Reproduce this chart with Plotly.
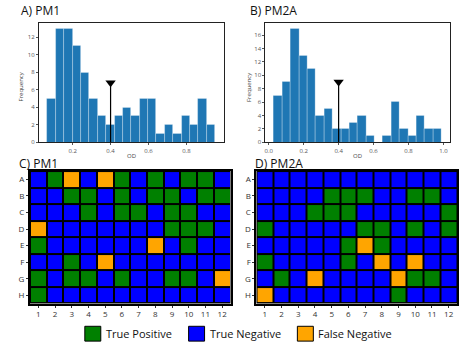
import plotly.graph_objects as go

# ---------------- data ----------------
pm1_counts = [5, 13, 13, 11, 8, 5, 3, 2, 3, 4, 3, 5, 5, 1, 2, 1, 3, 2, 5, 2]
pm1_bin_start = 0.066
pm1_bin_end = 0.952
pm2a_counts = [7, 9, 17, 13, 11, 4, 5, 2, 2, 3, 4, 1, 0, 1, 6, 2, 1, 4, 2, 2]
pm2a_bin_start = 0.029
pm2a_bin_end = 0.990
threshold = 0.4
pm1_arrow_top = 6.8
pm2a_arrow_top = 9.0

rows = list("ABCDEFGH")
cols = list(range(1, 13))
# P = True Positive, N = True Negative, F = False Negative
pm1_grid = [
    "NPFNFPNPNPPN",
    "NNPPNPNPPNPP",
    "NNNPNPPNPPNN",
    "FNNNNNNNPPPN",
    "PNNNNNNFNPNN",
    "NNPNFNNNNNNN",
    "PNPPNPNNPPNF",
    "PNNNNNNNNNNN",
]
pm2a_grid = [
    "NNNNNNNNNNNN",
    "NNNNPPPNNPPN",
    "NNNPPPNNNNNP",
    "PNNNNNPPNPNP",
    "NNNNNPFPNNNN",
    "PNNNNPNFNFNN",
    "NPNFNNNNFPPN",
    "FNNNNNNNPNNN",
]
class_codes = ["P", "N", "F"]
class_names = ["True Positive", "True Negative", "False Negative"]
class_colors = ["#008000", "#0000FF", "#FFA500"]

W, H = 474, 356
FONT = "Open Sans"


def px_x(p):
    return p / W


def px_y(p):
    return 1 - p / H


fig = go.Figure()


def add_hist(counts, start, end, xa, ya, arrow_top):
    n = len(counts)
    w = (end - start) / n
    centers = [start + w * (i + 0.5) for i in range(n)]
    fig.add_trace(go.Bar(
        x=centers, y=counts, width=[w] * n,
        marker=dict(color="#1f77b4", line=dict(color="rgba(255,255,255,0.45)", width=0.6)),
        xaxis=xa, yaxis=ya, showlegend=False, hoverinfo="skip"))
    fig.add_trace(go.Scatter(
        x=[threshold, threshold], y=[0, arrow_top], mode="lines",
        line=dict(color="black", width=1.2),
        xaxis=xa, yaxis=ya, showlegend=False, hoverinfo="skip"))
    fig.add_trace(go.Scatter(
        x=[threshold], y=[arrow_top], mode="markers",
        marker=dict(symbol="triangle-down", size=9, color="black"),
        xaxis=xa, yaxis=ya, showlegend=False, hoverinfo="skip"))
    return w


w1 = add_hist(pm1_counts, pm1_bin_start, pm1_bin_end, "x", "y", pm1_arrow_top)
w2 = add_hist(pm2a_counts, pm2a_bin_start, pm2a_bin_end, "x2", "y2", pm2a_arrow_top)

colorscale = [[0, class_colors[0]], [1 / 3, class_colors[0]],
              [1 / 3, class_colors[1]], [2 / 3, class_colors[1]],
              [2 / 3, class_colors[2]], [1, class_colors[2]]]


def add_heat(grid, xa, ya):
    z = [[class_codes.index(c) for c in row] for row in grid]
    fig.add_trace(go.Heatmap(
        x=cols, y=rows, z=z, zmin=-0.5, zmax=2.5, colorscale=colorscale,
        showscale=False, xgap=2, ygap=2, hoverinfo="skip",
        xaxis=xa, yaxis=ya))


add_heat(pm1_grid, "x3", "y3")
add_heat(pm2a_grid, "x4", "y4")

hist_tick = dict(size=6, color="#555", family=FONT)
hist_axis = dict(showline=True, linecolor="#222", linewidth=1, mirror=True,
                 ticks="outside", ticklen=2, tickcolor="#555", showgrid=False,
                 zeroline=False, tickfont=hist_tick)

heat_tick = dict(size=8, color="#333", family=FONT)
heat_axis = dict(showline=True, linecolor="black", linewidth=2, mirror=True,
                 ticks="outside", ticklen=2, tickcolor="#333", showgrid=False,
                 zeroline=False, tickfont=heat_tick)

y_hist = [px_y(144), px_y(23)]
y_heat = [px_y(307), px_y(173)]

fig.update_layout(
    width=W, height=H, margin=dict(l=0, r=0, t=0, b=0),
    paper_bgcolor="white", plot_bgcolor="white", bargap=0,
    xaxis=dict(domain=[px_x(38), px_x(223)], anchor="y",
               range=[pm1_bin_start - w1, pm1_bin_end + w1],
               tickvals=[0.2, 0.4, 0.6, 0.8], ticktext=["0.2", "0.4", "0.6", "0.8"], **hist_axis),
    yaxis=dict(domain=y_hist, anchor="x", range=[0, max(pm1_counts) * 1.05],
               tickvals=list(range(0, 13, 2)), **hist_axis),
    xaxis2=dict(domain=[px_x(265), px_x(450)], anchor="y2",
                range=[pm2a_bin_start - w2, pm2a_bin_end + w2],
                tickvals=[0, 0.2, 0.4, 0.6, 0.8, 1.0],
                ticktext=["0.0", "0.2", "0.4", "0.6", "0.8", "1.0"], **hist_axis),
    yaxis2=dict(domain=y_hist, anchor="x2", range=[0, max(pm2a_counts) * 1.05],
                tickvals=list(range(0, 17, 2)), **hist_axis),
    xaxis3=dict(domain=[px_x(29), px_x(230)], anchor="y3", range=[0.5, 12.5],
                tickvals=cols, **heat_axis),
    yaxis3=dict(domain=y_heat, anchor="x3", autorange="reversed", **heat_axis),
    xaxis4=dict(domain=[px_x(256), px_x(457)], anchor="y4", range=[0.5, 12.5],
                tickvals=cols, **heat_axis),
    yaxis4=dict(domain=y_heat, anchor="x4", autorange="reversed", **heat_axis),
)

annotations = []
title_font = dict(size=12, color="#111", family=FONT)
for text, x, y in [("A) PM1", 18, 11), ("B) PM2A", 248, 11),
                   ("C) PM1", 16, 165), ("D) PM2A", 253, 165)]:
    annotations.append(dict(text=text, x=px_x(x), y=px_y(y), xref="paper", yref="paper",
                            xanchor="left", yanchor="middle", showarrow=False, font=title_font))
small = dict(size=6, color="#444", family=FONT)
for x in [(38 + 223) / 2, (265 + 450) / 2]:
    annotations.append(dict(text="OD", x=px_x(x), y=px_y(158), xref="paper", yref="paper",
                            xanchor="center", yanchor="middle", showarrow=False, font=small))
for x in [20.5, 248.5]:
    annotations.append(dict(text="Frequency", x=px_x(x), y=px_y(88), xref="paper", yref="paper",
                            xanchor="center", yanchor="middle", showarrow=False, font=small,
                            textangle=-90))

shapes = []
# black background behind the heatmap cells so the gaps read as black grid lines
for xr, yr in [("x3 domain", "y3 domain"), ("x4 domain", "y4 domain")]:
    shapes.append(dict(type="rect", xref=xr, yref=yr, x0=0, x1=1, y0=0, y1=1,
                       fillcolor="black", line=dict(width=0), layer="below"))

legend_boxes = [84, 188, 297]
for name, color, bx in zip(class_names, class_colors, legend_boxes):
    shapes.append(dict(type="rect", xref="paper", yref="paper",
                       x0=px_x(bx), x1=px_x(bx + 16), y0=px_y(345), y1=px_y(330),
                       fillcolor=color, line=dict(color="black", width=1)))
    annotations.append(dict(text=name, x=px_x(bx + 19), y=px_y(337.5), xref="paper", yref="paper",
                            xanchor="left", yanchor="middle", showarrow=False,
                            font=dict(size=11, color="#111", family=FONT)))

fig.update_layout(annotations=annotations, shapes=shapes)
fig.write_html("out.html", config={"displayModeBar": False},
               post_script="document.body.style.margin='0px';document.body.style.overflow='hidden';")
